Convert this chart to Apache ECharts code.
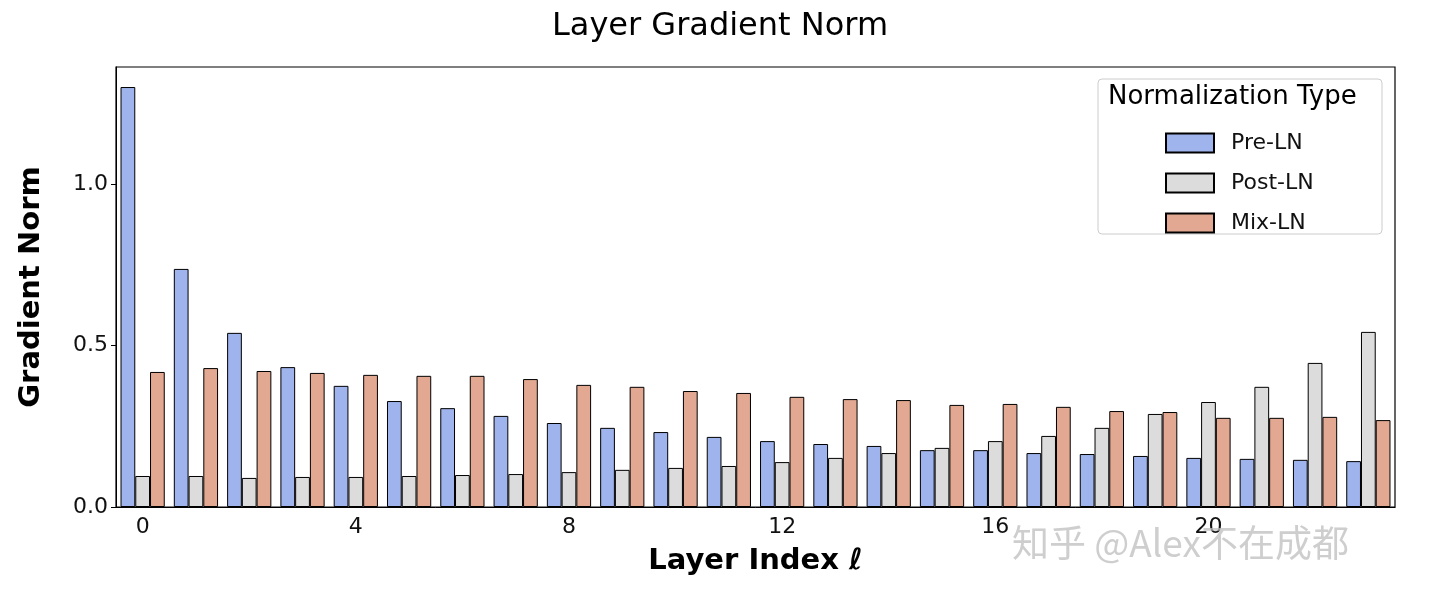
<!DOCTYPE html>
<html><head><meta charset="utf-8">
<script src="https://cdn.jsdelivr.net/npm/echarts@6/dist/echarts.min.js"></script>
<style>html,body{margin:0;padding:0;background:#fff}#c{width:1440px;height:605px}</style>
</head><body><div id="c"></div>
<script>
const layers = Array.from({length:24},(_,i)=>String(i));
const preLN = [1.30,0.737,0.539,0.433,0.375,0.328,0.306,0.282,0.26,0.245,0.232,0.217,0.204,0.195,0.189,0.176,0.176,0.167,0.164,0.158,0.152,0.149,0.146,0.142];
const postLN = [0.096,0.096,0.09,0.093,0.093,0.096,0.099,0.102,0.108,0.115,0.121,0.127,0.139,0.152,0.167,0.183,0.204,0.22,0.245,0.288,0.325,0.372,0.446,0.542];
const mixLN = [0.418,0.43,0.421,0.415,0.409,0.406,0.406,0.396,0.378,0.372,0.359,0.353,0.341,0.334,0.331,0.316,0.319,0.31,0.297,0.294,0.276,0.276,0.279,0.269];
const yTicks = [0,0.5,1.0];
const F = 'DejaVu Sans';
const chart = echarts.init(document.getElementById('c'));
const mk = (name,data,color)=>({name,type:'bar',data,barGap:'0%',barCategoryGap:'17%',
  itemStyle:{color,borderColor:'#000',borderWidth:1}});
chart.setOption({
  animation:false,
  textStyle:{fontFamily:F},
  title:{text:'Layer Gradient Norm',left:'center',top:6,textStyle:{fontFamily:F,fontSize:32,fontWeight:'normal',color:'#000'}},
  grid:{left:116,right:45,top:67,bottom:98,show:true,borderColor:'#000',borderWidth:1.2},
  legend:{orient:'vertical',left:1160,top:127,itemWidth:48,itemHeight:19,itemGap:18,icon:'rect',
    textStyle:{fontFamily:F,fontSize:22,color:'#111',padding:[0,0,0,12]},
    data:['Pre-LN','Post-LN','Mix-LN']},
  graphic:[
    {type:'rect',shape:{x:1098,y:79,width:284,height:155,r:4},style:{fill:'rgba(255,255,255,0.8)',stroke:'#ccc',lineWidth:1},z:1},
    {type:'text',left:1108,top:84,style:{text:'Normalization Type',font:'26px "DejaVu Sans"',fill:'#000'},z:2},
    {type:'text',left:1012,top:524,style:{text:'知乎 @Alex不在成都',font:'37px "Noto Sans CJK SC"',fill:'rgba(190,190,190,0.75)'},z:10}
  ],
  xAxis:{type:'category',data:layers,name:'Layer Index ℓ',nameLocation:'middle',nameGap:40,
    nameTextStyle:{fontFamily:F,fontSize:29,fontWeight:'bold',color:'#000'},
    axisLine:{lineStyle:{color:'#000'}},
    axisTick:{alignWithLabel:true,interval:3,lineStyle:{color:'#000'}},
    axisLabel:{interval:3,fontSize:22,color:'#111',margin:9}},
  yAxis:{type:'value',min:0,max:1.362,interval:0.5,name:'Gradient Norm',nameLocation:'middle',nameGap:70,
    nameTextStyle:{fontFamily:F,fontSize:29,fontWeight:'bold',color:'#000'},
    axisLine:{show:true,lineStyle:{color:'#000'}},axisTick:{show:true,lineStyle:{color:'#000'}},
    splitLine:{show:false},
    axisLabel:{showMaxLabel:false,fontSize:22,color:'#111',formatter:v=>yTicks.includes(v)?v.toFixed(1):''}},
  series:[mk('Pre-LN',preLN,'#9fb3ec'),mk('Post-LN',postLN,'#dcdcdc'),mk('Mix-LN',mixLN,'#e2a891')]
});
</script></body></html>
